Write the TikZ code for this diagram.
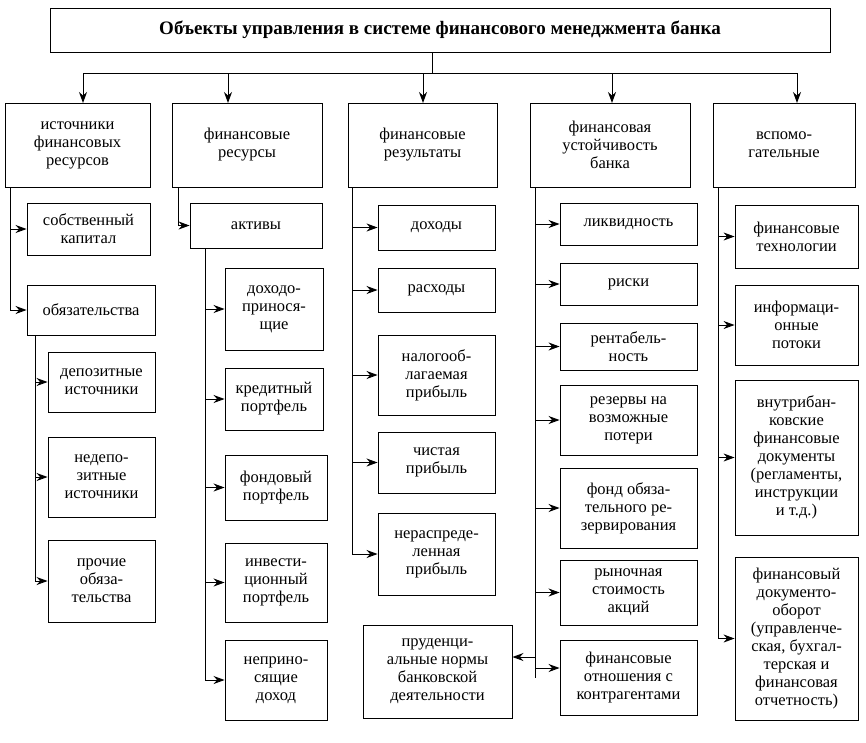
\documentclass[tikz,border=0pt]{standalone}
\usepackage{fontspec}
\setmainfont{Liberation Serif}
\usetikzlibrary{arrows.meta}
\newcommand\bx[6]{\node[bxs,minimum width={(#4-#2)*1pt},minimum height={(#5-#3)*1pt}] (#1) at ({(#2+#4)/2},{(#3+#5)/2}) {#6};}
\begin{document}
\begin{tikzpicture}[x=1pt,y=-1pt,
  bxs/.style={draw,line width=0.9pt,align=center,inner sep=1pt,font=\fontsize{16.5}{18}\selectfont},
  ar/.style={-{Stealth[length=11pt,width=8pt]},line width=0.9pt},
  ln/.style={line width=0.9pt}]
\useasboundingbox (0,0) rectangle (866,742);
\node[draw,line width=0.9pt,minimum width=780pt,minimum height=44pt,font=\bfseries\fontsize{19}{21}\selectfont] (title) at (440,30) {Объекты управления в системе финансового менеджмента банка};
% top row
\bx{a}{5}{103}{150}{187}{источники\\финансовых\\ресурсов}
\bx{b}{172}{103}{322}{187}{финансовые\\ресурсы}
\bx{c}{348}{103}{497}{187}{финансовые\\результаты}
\bx{d}{530}{103}{690}{187}{финансовая\\устойчивость\\банка}
\bx{e}{713}{103}{855}{187}{вспомо-\\гательные}
\coordinate (bus) at (432,73);
\draw[ln] (title.south -| bus) -- (bus);
\draw[ln] (83,73) -- (797,73);
\foreach \n/\x in {a/83,b/228,c/423,d/612,e/797}{\draw[ar] (\x,73) -- (\x,103);}
% column 1
\bx{a1}{27}{203}{150}{255}{собственный\\капитал}
\bx{a2}{27}{285}{155}{335}{обязательства}
\bx{a3}{48}{352}{155}{412}{депозитные\\источники}
\bx{a4}{48}{437}{155}{517}{недепо-\\зитные\\источники}
\bx{a5}{48}{540}{155}{622}{прочие\\обяза-\\тельства}
\coordinate (la) at (10,187);
\draw[ln] (la) -- (la |- a2.west);
\foreach \t in {a1,a2}{\draw[ar] (la |- \t.west) -- (\t.west);}
\coordinate (la2) at (35,335);
\draw[ln] (la2) -- (la2 |- a5.west);
\foreach \t in {a3,a4,a5}{\draw[ar] (la2 |- \t.west) -- (\t.west);}
% column 2
\bx{b1}{190}{203}{322}{248}{активы}
\bx{b2}{225}{268}{323}{350}{доходо-\\принося-\\щие}
\bx{b3}{225}{368}{323}{430}{кредитный\\портфель}
\bx{b4}{225}{455}{327}{520}{фондовый\\портфель}
\bx{b5}{225}{543}{327}{622}{инвести-\\ционный\\портфель}
\bx{b6}{225}{640}{327}{720}{неприно-\\сящие\\доход}
\coordinate (lb) at (178,187);
\draw[ln] (lb) -- (lb |- b1.west);
\draw[ar] (lb |- b1.west) -- (b1.west);
\coordinate (lb2) at (205,248);
\draw[ln] (lb2) -- (lb2 |- b6.west);
\foreach \t in {b2,b3,b4,b5,b6}{\draw[ar] (lb2 |- \t.west) -- (\t.west);}
% column 3
\bx{c1}{378}{205}{495}{250}{доходы}
\bx{c2}{378}{268}{495}{312}{расходы}
\bx{c3}{378}{335}{495}{415}{налогооб-\\лагаемая\\прибыль}
\bx{c4}{378}{432}{495}{493}{чистая\\прибыль}
\bx{c5}{378}{513}{495}{595}{нераспреде-\\ленная\\прибыль}
\bx{p}{363}{625}{512}{718}{пруденци-\\альные нормы\\банковской\\деятельности}
\coordinate (lc) at (352,187);
\draw[ln] (lc) -- (lc |- c5.west);
\foreach \t in {c1,c2,c3,c4,c5}{\draw[ar] (lc |- \t.west) -- (\t.west);}
% column 4
\bx{d1}{560}{203}{697}{245}{ликвидность}
\bx{d2}{560}{263}{697}{305}{риски}
\bx{d3}{560}{323}{697}{370}{рентабель-\\ность}
\bx{d4}{560}{385}{697}{455}{резервы на\\возможные\\потери}
\bx{d5}{560}{468}{697}{548}{фонд обяза-\\тельного ре-\\зервирования}
\bx{d6}{560}{560}{697}{625}{рыночная\\стоимость\\акций}
\bx{d7}{560}{640}{697}{715}{финансовые\\отношения с\\контрагентами}
\coordinate (ld) at (535,187);
\draw[ln] (ld) -- (ld |- d7.west);
\foreach \t in {d1,d2,d3,d4,d5,d6}{\draw[ar] (ld |- \t.west) -- (\t.west);}
\draw[ar] (ld |- 0,668) -- (d7.west |- 0,668);
\draw[ar] (ld |- 0,657) -- (p.east |- 0,657);
% column 5
\bx{e1}{735}{205}{858}{268}{финансовые\\технологии}
\bx{e2}{735}{285}{858}{365}{информаци-\\онные\\потоки}
\bx{e3}{735}{380}{858}{535}{внутрибан-\\ковские\\финансовые\\документы\\(регламенты,\\инструкции\\и т.д.)}
\bx{e4}{735}{557}{858}{720}{финансовый\\документо-\\оборот\\(управленче-\\ская, бухгал-\\терская и\\финансовая\\отчетность)}
\coordinate (le) at (718,187);
\draw[ln] (le) -- (le |- e4.west);
\foreach \t in {e1,e2,e3,e4}{\draw[ar] (le |- \t.west) -- (\t.west);}
\end{tikzpicture}
\end{document}
